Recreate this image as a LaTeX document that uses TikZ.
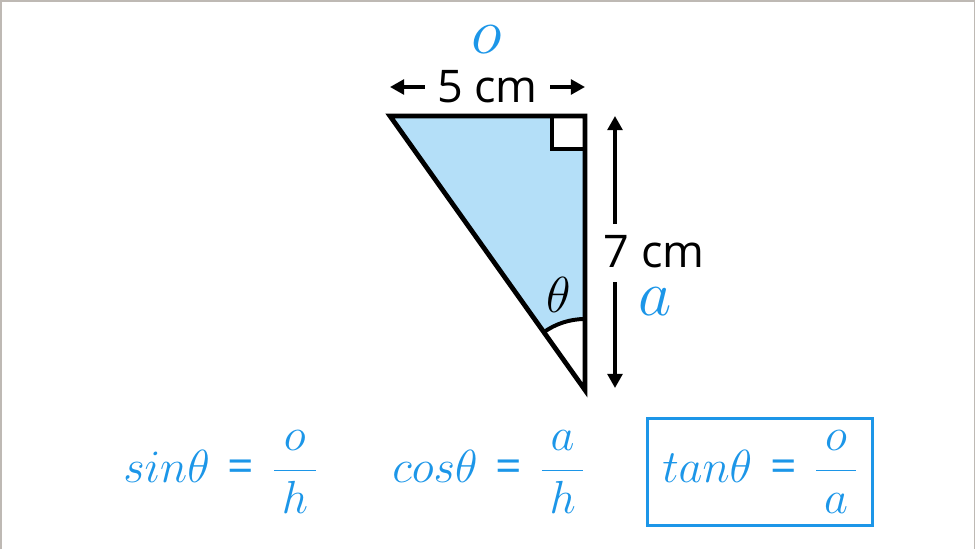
\RequirePackage{fix-cm}
\documentclass[tikz,border=0pt]{standalone}
\usepackage{fontspec}
\setmainfont{Open Sans}
\usetikzlibrary{arrows.meta,fit}
\definecolor{trigblue}{RGB}{28,150,232}
\definecolor{trigfill}{RGB}{180,223,248}
\definecolor{framegrey}{RGB}{190,185,180}
\newcommand{\eqsign}{\mathrel{\mkern2mu\mbox{=}\mkern2mu}}
\begin{document}
\begin{tikzpicture}[x=0.025cm,y=0.025cm,
			side/.style={line width=3.4pt,line join=miter},
			dimline/.style={line width=2.3pt,-{Triangle[length=10pt,width=10.5pt]}},
			sidelabel/.style={text=trigblue,font=\fontsize{46}{50}\selectfont,inner sep=0pt},
			lenlabel/.style={font=\fontsize{32}{38}\selectfont,inner sep=0.3cm},
			formula/.style={text=trigblue,font=\fontsize{33}{40}\selectfont,anchor=base west,inner sep=0pt}]
			\useasboundingbox (0,0) rectangle (976,549);
			\draw[framegrey,line width=1.4pt] (1,0) -- (1,548) -- (974.5,548) -- (974.5,0);
			% triangle
			\coordinate (A) at (390,433);
			\coordinate (B) at (585,433);
			\coordinate (C) at (585,159);
			\fill[trigfill] (A) -- (B) -- (C) -- cycle;
			\fill[white] (552,400) rectangle (B);
			\fill[white] (C) -- (585,230) arc[start angle=90,end angle=125.44,radius=1.775cm] -- cycle;
			\draw[line width=2.8pt] (552,433) -- (552,400) -- (585,400);
			\draw[line width=2.8pt] (585,230) arc[start angle=90,end angle=125.44,radius=1.775cm];
			\draw[side] (A) -- (B) -- (C) -- cycle;
			\node[font=\fontsize{36}{40}\selectfont] (ang) at (559,254) {$\theta$};
			% sides
			\node[sidelabel] (opp) at (487,509) {$o$};
			\node[lenlabel] (lenO) at (487.5,462) {5 cm};
			\draw[dimline] (lenO.west) -- (A |- lenO.west);
			\draw[dimline] (lenO.east) -- (B |- lenO.east);
			\coordinate (topA) at (615,433);
			\coordinate (botA) at (615,161);
			\node[lenlabel,inner sep=2pt] (lenA) at (654,297.5) {7 cm};
			\draw[dimline] ([yshift=0.2cm]lenA.north -| topA) -- (topA);
			\draw[dimline] ([yshift=-0.28cm]lenA.south -| botA) -- (botA);
			\node[sidelabel] (adj) at (655,247.5) {$a$};
			% ratios
			\node[formula] (sinF) at (123,67) {$sin\theta \eqsign {\displaystyle\frac{\,o\,}{\,h\,}}$};
			\node[formula] (cosF) at (392,67) {$cos\theta \eqsign {\displaystyle\frac{\,a\,}{\,h\,}}$};
			\node[formula] (tanF) at (662,67) {$tan\theta \eqsign {\displaystyle\frac{\,o\,}{\,a\,}}$};
			\node[draw=trigblue,line width=2pt,fit=(tanF),inner xsep=0.37cm,inner ysep=0.29cm] (tanBox) {};
\end{tikzpicture}
\end{document}
